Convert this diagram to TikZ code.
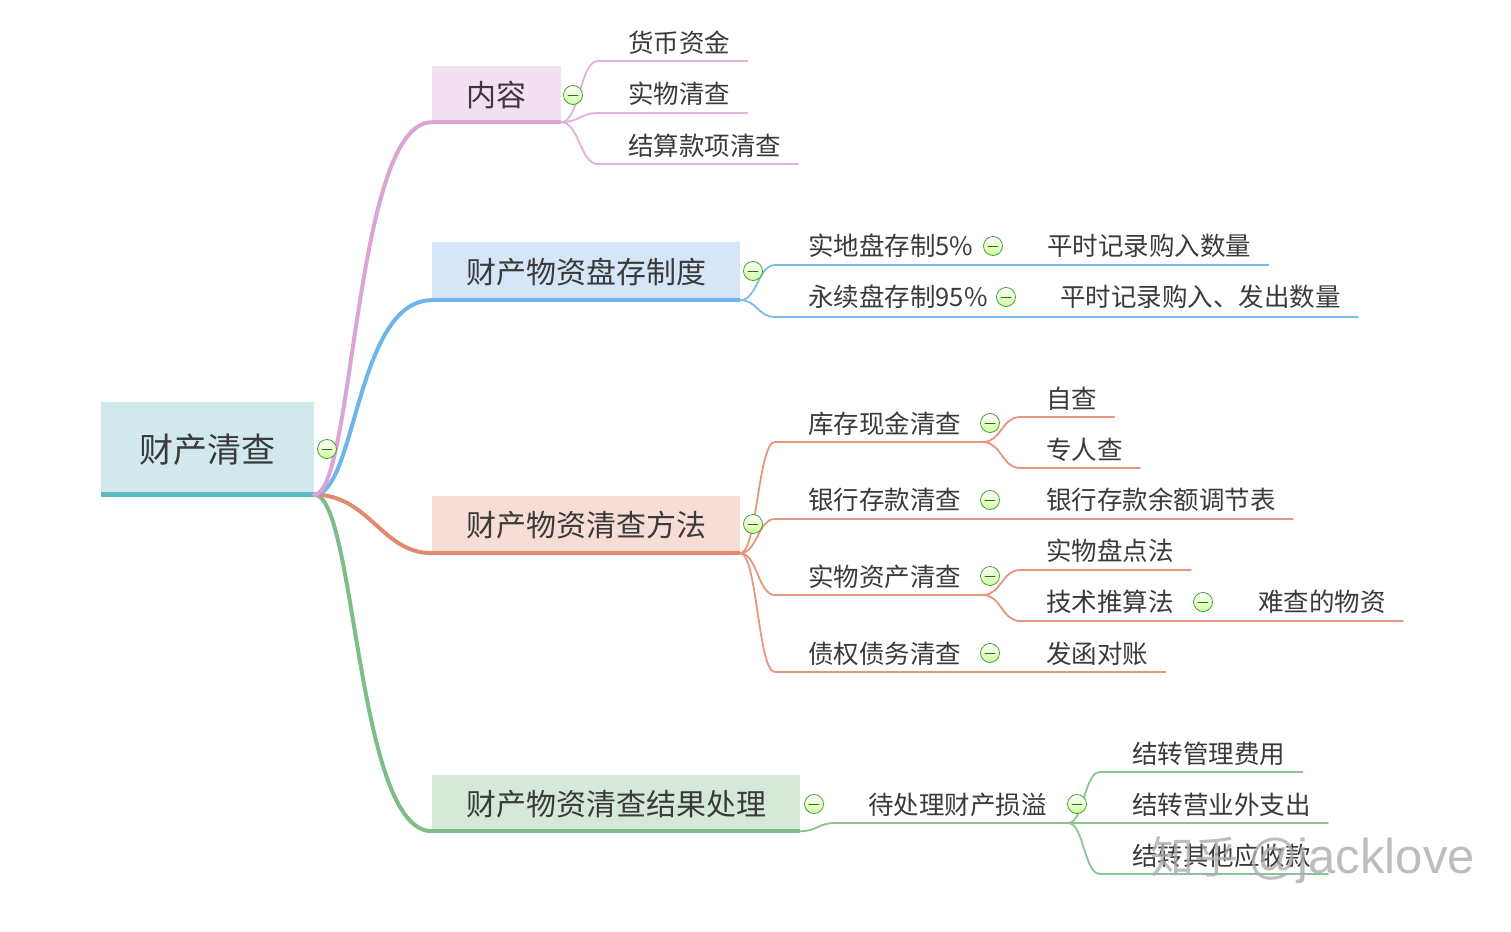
\documentclass[tikz,border=0pt]{standalone}
\usepackage{fontspec}
\setmainfont{Noto Sans CJK SC}
\newfontfamily\wmfont{Liberation Sans}

\definecolor{txt}{HTML}{3A3A3A}
\definecolor{rootfill}{HTML}{D1E8EC}
\definecolor{rootbar}{HTML}{5CBCC1}
\definecolor{pinkfill}{HTML}{F3E0F0}
\definecolor{pinkbar}{HTML}{DCA3D5}
\definecolor{bluefill}{HTML}{D6E6F8}
\definecolor{bluebar}{HTML}{6DB5EA}
\definecolor{redfill}{HTML}{F7DDD6}
\definecolor{redbar}{HTML}{E28A6F}
\definecolor{greenfill}{HTML}{D6E9D9}
\definecolor{greenbar}{HTML}{7DBD89}

\begin{document}
\begin{tikzpicture}[x=1pt, y=-1pt, line cap=round,
  box/.style={inner sep=0, text=txt, font=\fontsize{30}{32}\selectfont, minimum height=58pt},
  leaf/.style={anchor=west, inner sep=0, text=txt, font=\fontsize{25.5}{28}\selectfont},
  fold/.style={circle, draw=green!50!black!75, line width=0.8pt, minimum size=19pt, inner sep=0,
    top color=white, bottom color=green!45!yellow!40,
    path picture={\draw[green!25!black!80, line width=0.9pt] ([xshift=-5pt]path picture bounding box.center) -- ([xshift=5pt]path picture bounding box.center);}},
  main/.style={line width=4pt},
  sub/.style={line width=1.8pt},
]
\useasboundingbox (0,0) rectangle (1511,931);

% root and main branches
\node[box, fill=rootfill, minimum width=213pt, minimum height=95pt, font=\fontsize{34}{36}\selectfont] (root) at (207.5,449.5) {财产清查};
\node[box, fill=pinkfill, minimum width=129pt] (b1) at (496.5,95) {内容};
\node[box, fill=bluefill, minimum width=308pt, minimum height=60pt] (b2) at (586,272) {财产物资盘存制度};
\node[box, fill=redfill, minimum width=308pt, minimum height=59pt] (b3) at (586,525.5) {财产物资清查方法};
\node[box, fill=greenfill, minimum width=368pt] (b4) at (616,804) {财产物资清查结果处理};

\draw[line width=5pt, rootbar, line cap=butt] ([yshift=2.5pt]root.south west) -- ([yshift=2.5pt]root.south east);
\draw[line width=4pt, pinkbar, line cap=butt] ([yshift=2pt]b1.south west) -- ([yshift=2pt]b1.south east);
\draw[line width=4pt, bluebar, line cap=butt] ([yshift=2pt]b2.south west) -- ([yshift=2pt]b2.south east);
\draw[line width=4pt, redbar, line cap=butt] ([yshift=2pt]b3.south west) -- ([yshift=2pt]b3.south east);
\draw[line width=4pt, greenbar, line cap=butt] ([yshift=2pt]b4.south west) -- ([yshift=2pt]b4.south east);

\coordinate (j0) at ([yshift=2.5pt]root.south east);
\coordinate (j1) at ([yshift=2pt]b1.south east);
\coordinate (j2) at ([yshift=2pt]b2.south east);
\coordinate (j3) at ([yshift=2pt]b3.south east);
\coordinate (j4) at ([yshift=2pt]b4.south east);

\draw[main, greenbar] (j0) .. controls +(42,0) and +(-76,0) .. ([yshift=2pt]b4.south west);
\draw[main, redbar] (j0) .. controls +(55,0) and +(-50,0) .. ([yshift=2pt]b3.south west);
\draw[main, bluebar] (j0) .. controls +(42,0) and +(-76,0) .. ([yshift=2pt]b2.south west);
\draw[main, pinkbar] (j0) .. controls +(40,0) and +(-78,0) .. ([yshift=2pt]b1.south west);

% branch 1
\node[leaf] (n11) at (628,43) {货币资金};
\node[leaf] (n12) at (628,94) {实物清查};
\node[leaf] (n13) at (628,146) {结算款项清查};
\coordinate (u11) at (598,61);
\coordinate (u12) at (598,113);
\coordinate (u13) at (598,164);
\foreach \i in {1,2,3}
  \draw[sub, pinkbar!85] (j1) .. controls +(18,0) and +(-18,0) .. (u1\i) -- ([xshift=17pt]n1\i.east |- u1\i);

% branch 2
\node[leaf] (n21) at (808,246) {实地盘存制5\%};
\node[leaf] (n211) at (1047,246) {平时记录购入数量};
\node[leaf] (n22) at (808,297) {永续盘存制95\%};
\node[leaf] (n221) at (1060,297) {平时记录购入、发出数量};
\coordinate (u21) at (775,265);
\coordinate (u22) at (775,317);
\draw[sub, bluebar!90] (j2) .. controls +(17,0) and +(-17,0) .. (u21) -- ([xshift=17pt]n211.east |- u21);
\draw[sub, bluebar!90] (j2) .. controls +(17,0) and +(-17,0) .. (u22) -- ([xshift=17pt]n221.east |- u22);

% branch 3
\node[leaf] (n31) at (808,424) {库存现金清查};
\node[leaf] (n311) at (1046,399) {自查};
\node[leaf] (n312) at (1046,450) {专人查};
\node[leaf] (n32) at (808,500) {银行存款清查};
\node[leaf] (n321) at (1046,500) {银行存款余额调节表};
\node[leaf] (n33) at (808,577) {实物资产清查};
\node[leaf] (n331) at (1046,551) {实物盘点法};
\node[leaf] (n332) at (1046,602) {技术推算法};
\node[leaf] (n3321) at (1258,602) {难查的物资};
\node[leaf] (n34) at (808,654) {债权债务清查};
\node[leaf] (n341) at (1046,654) {发函对账};
\coordinate (u31) at (775,442);
\coordinate (k31) at (983,442);
\coordinate (u311) at (1020,417);
\coordinate (u312) at (1020,468);
\coordinate (u32) at (775,519);
\coordinate (u33) at (775,595);
\coordinate (k33) at (983,595);
\coordinate (u331) at (1020,570);
\coordinate (u332) at (1020,621);
\coordinate (u34) at (775,672);
\begin{scope}[sub, redbar!90]
\draw (j3) .. controls +(17,0) and +(-17,0) .. (u31) -- (k31);
\draw (k31) .. controls +(18,0) and +(-18,0) .. (u311) -- ([xshift=17pt]n311.east |- u311);
\draw (k31) .. controls +(18,0) and +(-18,0) .. (u312) -- ([xshift=17pt]n312.east |- u312);
\draw (j3) .. controls +(17,0) and +(-17,0) .. (u32) -- ([xshift=17pt]n321.east |- u32);
\draw (j3) .. controls +(17,0) and +(-17,0) .. (u33) -- (k33);
\draw (k33) .. controls +(18,0) and +(-18,0) .. (u331) -- ([xshift=17pt]n331.east |- u331);
\draw (k33) .. controls +(18,0) and +(-18,0) .. (u332) -- ([xshift=17pt]n3321.east |- u332);
\draw (j3) .. controls +(17,0) and +(-17,0) .. (u34) -- ([xshift=17pt]n341.east |- u34);
\end{scope}

% branch 4
\node[leaf] (n41) at (868,805) {待处理财产损溢};
\node[leaf] (n411) at (1132,754) {结转管理费用};
\node[leaf] (n412) at (1132,805) {结转营业外支出};
\node[leaf] (n413) at (1132,856) {结转其他应收款};
\coordinate (u41) at (835,823);
\coordinate (k41) at (1068,823);
\coordinate (u411) at (1100,772);
\coordinate (u412) at (1100,823);
\coordinate (u413) at (1100,874);
\begin{scope}[sub, greenbar!90]
\draw (j4) .. controls +(17,0) and +(-17,0) .. (u41) -- (k41);
\foreach \i in {1,2,3}
  \draw (k41) .. controls +(16,0) and +(-16,0) .. (u41\i) -- ([xshift=17pt]n41\i.east |- u41\i);
\end{scope}

% fold buttons
\node[fold] (f0) at (327,449) {};
\node[fold] (f1) at (573,95) {};
\node[fold] (f2) at (753,271) {};
\node[fold] (f21) at (993,246) {};
\node[fold] (f22) at (1006,297) {};
\node[fold] (f3) at (753,524) {};
\node[fold] (f31) at (990,423) {};
\node[fold] (f32) at (990,500) {};
\node[fold] (f33) at (990,576) {};
\node[fold] (f332) at (1203,602) {};
\node[fold] (f34) at (990,653) {};
\node[fold] (f4) at (814,804) {};
\node[fold] (f41) at (1077,804) {};

% watermark
\node[anchor=west, inner sep=0, text=gray!65, text opacity=0.8, font=\fontsize{44}{46}\selectfont] (wm) at (1150,860) {知乎 {\wmfont\fontsize{49}{50}\selectfont @jacklove}};
\end{tikzpicture}
\end{document}
